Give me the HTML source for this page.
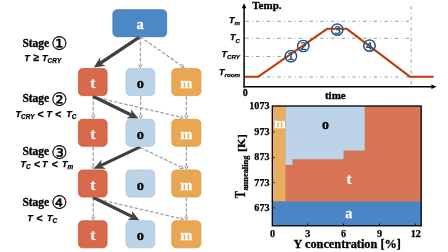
<!DOCTYPE html>
<html>
<head>
<meta charset="utf-8">
<title>Phase evolution</title>
<style>
html,body{margin:0;padding:0;background:#fff;}
body{width:448px;height:252px;overflow:hidden;}
svg{display:block;}
text{font-family:"Liberation Serif","DejaVu Serif",serif;}
.b{font-weight:bold;stroke:#000;stroke-width:0.3;}
.w{stroke:#fff !important;}
.bi{font-family:"Liberation Sans","DejaVu Sans",sans-serif;font-weight:bold;font-style:italic;stroke:#000;stroke-width:0.25;}
.stage{font-weight:bold;font-size:11.5px;stroke:#000;stroke-width:0.3;}
.f{font-family:"Liberation Sans","DejaVu Sans",sans-serif;font-weight:bold;font-style:italic;font-size:9px;stroke:#000;stroke-width:0.25;}
.sub{font-size:6.4px;letter-spacing:0.15px;}
.op{font-size:10.5px;font-style:normal;}
.cd{font-family:"DejaVu Sans",sans-serif;font-size:18.3px;text-anchor:middle;}
.cdk{stroke:#000;stroke-width:0.34;}
.dash{stroke:#a0a0a0;stroke-width:1.3;stroke-dasharray:3.5 1.8;fill:none;}
.dh{stroke:#a0a0a0;stroke-width:1;fill:#e4e4e4;}
.thick{stroke:#404040;stroke-width:3.2;fill:none;stroke-linecap:butt;}
.th{fill:#404040;stroke:none;}
.grid{stroke:#8e8e8e;stroke-width:0.9;stroke-dasharray:3.4 3.2 0.9 3.2;fill:none;}
.tick{font-weight:bold;font-size:10.2px;stroke:#000;stroke-width:0.25;}
.tk{stroke:#000;stroke-width:0.9;fill:none;}
.bx{font-weight:bold;font-size:14.5px;text-anchor:middle;stroke-width:0.3;}
</style>
</head>
<body>
<svg width="448" height="252" viewBox="0 0 448 252">
<rect width="448" height="252" fill="#fff"/>

<!-- LEFT: flow diagram -->
<g id="flow">
<line class="dash" x1="140.4" y1="36.8" x2="140.4" y2="66.8"/><path class="dh" d="M138.6,64.6 L140.4,67.8 L142.2,64.6"/>
<line class="dash" x1="140.4" y1="36.8" x2="183.38" y2="67.02"/><path class="dh" d="M180.55,67.23 L184.2,67.6 L182.62,64.29"/>
<line class="dash" x1="93.3" y1="96.3" x2="93.3" y2="117.5"/><path class="dh" d="M91.5,115.3 L93.3,118.5 L95.1,115.3"/>
<line class="dash" x1="186.4" y1="96.3" x2="186.4" y2="117.5"/><path class="dh" d="M184.6,115.3 L186.4,118.5 L188.2,115.3"/>
<line class="dash" x1="140.6" y1="96.3" x2="140.6" y2="117.5"/><path class="dh" d="M138.8,115.3 L140.6,118.5 L142.4,115.3"/>
<line class="dash" x1="93.3" y1="96.8" x2="182.33" y2="117.47"/><path class="dh" d="M179.78,118.73 L183.3,117.7 L180.59,115.22"/>
<line class="dash" x1="93.3" y1="147" x2="93.3" y2="168.2"/><path class="dh" d="M91.5,166 L93.3,169.2 L95.1,166"/>
<line class="dash" x1="186.4" y1="147" x2="186.4" y2="168.2"/><path class="dh" d="M184.6,166 L186.4,169.2 L188.2,166"/>
<line class="dash" x1="140.4" y1="147.5" x2="182.4" y2="167.96"/><path class="dh" d="M179.63,168.62 L183.3,168.4 L181.21,165.38"/>
<line class="dash" x1="93.3" y1="197.7" x2="93.3" y2="219"/><path class="dh" d="M91.5,216.8 L93.3,220 L95.1,216.8"/>
<line class="dash" x1="186.4" y1="197.7" x2="186.4" y2="219"/><path class="dh" d="M184.6,216.8 L186.4,220 L188.2,216.8"/>
<line class="dash" x1="93.3" y1="198.2" x2="182.33" y2="218.97"/><path class="dh" d="M179.77,220.23 L183.3,219.2 L180.59,216.72"/>
<line class="thick" x1="139.4" y1="37.1" x2="100.03" y2="63.43"/><path class="th" d="M93.8,67.6 L100.16,57.33 L100.03,63.43 L105.72,65.64 Z"/>
<line class="thick" x1="92.9" y1="96.3" x2="131.76" y2="115.31"/><path class="th" d="M138.5,118.6 L126.42,118.26 L131.76,115.31 L130.81,109.28 Z"/>
<line class="thick" x1="140.2" y1="146.9" x2="100.58" y2="165.6"/><path class="th" d="M93.8,168.8 L101.61,159.58 L100.58,165.6 L105.88,168.63 Z"/>
<line class="thick" x1="92.9" y1="197.3" x2="132.67" y2="216.89"/><path class="th" d="M139.4,220.2 L127.32,219.83 L132.67,216.89 L131.74,210.85 Z"/>
<rect x="112.9" y="9.7" width="53.8" height="27" rx="4.2" fill="#4c87c6" stroke="#3d76b5" stroke-width="0.8"/>
<text class="bx" x="140.2" y="28.8" fill="#fff" stroke="#fff">a</text>
<rect x="78.4" y="68.6" width="28.7" height="27" rx="4.2" fill="#d9694b" stroke="#c9593b" stroke-width="0.8"/>
<text class="bx" x="93" y="88.2" fill="#fff" stroke="#fff">t</text>
<rect x="126" y="68.6" width="28.7" height="27" rx="4.2" fill="#bdd3e8" stroke="#aac5de" stroke-width="0.8"/>
<text class="bx" x="140.3" y="88.2" fill="#000" stroke="#000">o</text>
<rect x="171.8" y="68.6" width="29.1" height="27" rx="4.2" fill="#eaa753" stroke="#dd9a47" stroke-width="0.8"/>
<text class="bx" x="186.4" y="88.2" fill="#fff" stroke="#fff">m</text>
<rect x="78.4" y="119.3" width="28.7" height="27" rx="4.2" fill="#d9694b" stroke="#c9593b" stroke-width="0.8"/>
<text class="bx" x="93" y="138.9" fill="#fff" stroke="#fff">t</text>
<rect x="126" y="119.3" width="28.7" height="27" rx="4.2" fill="#bdd3e8" stroke="#aac5de" stroke-width="0.8"/>
<text class="bx" x="140.3" y="138.9" fill="#000" stroke="#000">o</text>
<rect x="171.8" y="119.3" width="29.1" height="27" rx="4.2" fill="#eaa753" stroke="#dd9a47" stroke-width="0.8"/>
<text class="bx" x="186.4" y="138.9" fill="#fff" stroke="#fff">m</text>
<rect x="78.4" y="170" width="28.7" height="27" rx="4.2" fill="#d9694b" stroke="#c9593b" stroke-width="0.8"/>
<text class="bx" x="93" y="189.6" fill="#fff" stroke="#fff">t</text>
<rect x="126" y="170" width="28.7" height="27" rx="4.2" fill="#bdd3e8" stroke="#aac5de" stroke-width="0.8"/>
<text class="bx" x="140.3" y="189.6" fill="#000" stroke="#000">o</text>
<rect x="171.8" y="170" width="29.1" height="27" rx="4.2" fill="#eaa753" stroke="#dd9a47" stroke-width="0.8"/>
<text class="bx" x="186.4" y="189.6" fill="#fff" stroke="#fff">m</text>
<rect x="78.4" y="220.8" width="28.7" height="27" rx="4.2" fill="#d9694b" stroke="#c9593b" stroke-width="0.8"/>
<text class="bx" x="93" y="240.4" fill="#fff" stroke="#fff">t</text>
<rect x="126" y="220.8" width="28.7" height="27" rx="4.2" fill="#bdd3e8" stroke="#aac5de" stroke-width="0.8"/>
<text class="bx" x="140.3" y="240.4" fill="#000" stroke="#000">o</text>
<rect x="171.8" y="220.8" width="29.1" height="27" rx="4.2" fill="#eaa753" stroke="#dd9a47" stroke-width="0.8"/>
<text class="bx" x="186.4" y="240.4" fill="#fff" stroke="#fff">m</text>

<!-- stage labels -->
<text class="stage" x="22.4" y="47">Stage</text>
<text class="cd cdk" x="59.500" y="49.80">①</text>
<text class="f" y="60.500"><tspan x="24.3">T</tspan><tspan class="op" x="33.6" dy="0.9">≥</tspan><tspan x="42.1" dy="-0.9">T</tspan><tspan class="sub" dy="2">CRY</tspan></text>

<text class="stage" x="22.4" y="102.300">Stage</text>
<text class="cd cdk" x="59.500" y="105.70">②</text>
<text class="f" y="116.800"><tspan x="15.4">T</tspan><tspan class="sub" dy="2">CRY</tspan><tspan class="op" x="37.5" dy="-1.1">&lt;</tspan><tspan x="46.6" dy="-0.9">T</tspan><tspan class="op" x="55.3" dy="0.9">&lt;</tspan><tspan x="66.25" dy="-0.9">T</tspan><tspan class="sub" dy="2">C</tspan></text>

<text class="stage" x="22.4" y="154.600">Stage</text>
<text class="cd cdk" x="59.500" y="158.80">③</text>
<text class="f" y="166.800"><tspan x="20.4">T</tspan><tspan class="sub" dy="2">C</tspan><tspan class="op" x="33.9" dy="-1.1">&lt;</tspan><tspan x="42.1" dy="-0.9">T</tspan><tspan class="op" x="51.8" dy="0.9">&lt;</tspan><tspan x="62.1" dy="-0.9">T</tspan><tspan class="sub" dy="2">m</tspan></text>

<text class="stage" x="22.4" y="205.500">Stage</text>
<text class="cd cdk" x="59.500" y="209.30">④</text>
<text class="f" y="220.700"><tspan x="27.3">T</tspan><tspan class="op" x="36.6" dy="0.9">&lt;</tspan><tspan x="47" dy="-0.9">T</tspan><tspan class="sub" dy="2">C</tspan></text>
</g>

<!-- TOP RIGHT: temperature profile -->
<g id="profile">
<line class="grid" x1="245.300" y1="21.300" x2="410" y2="21.300"/>
<line class="grid" x1="245.300" y1="38.300" x2="410" y2="38.300"/>
<line class="grid" x1="245.300" y1="56.500" x2="285" y2="56.500"/>
<line class="grid" x1="245.300" y1="77" x2="410" y2="77"/>
<line class="grid" x1="411.200" y1="6" x2="411.200" y2="86"/>
<polyline points="244.500,76.800 258,76.800 327.100,28.800 346.800,28.800 410.200,76.800 433.600,76.800" fill="none" stroke="#c23b0a" stroke-width="2.100" stroke-linejoin="round"/>
<!-- axes -->
<line x1="244.100" y1="87.400" x2="244.100" y2="7" stroke="#000" stroke-width="1.500"/>
<path d="M244.100,3.300 L246.400,8.300 L241.800,8.300 Z" fill="#000"/>
<line x1="243.400" y1="86.700" x2="432" y2="86.700" stroke="#000" stroke-width="1.500"/>
<path d="M436.600,86.700 L431.400,84.400 L431.400,89 Z" fill="#000"/>
<!-- circled numbers -->
<g fill="none" stroke="#1b5280" stroke-width="1.25">
<circle cx="290.90" cy="56.20" r="5.65"/>
<circle cx="303.30" cy="46.00" r="5.65"/>
<circle cx="337.20" cy="29.40" r="5.65"/>
<circle cx="369.50" cy="45.50" r="5.65"/>
</g>
<g fill="#1b5280">
<text class="cd" style="font-size:16.7px" x="290.90" y="62.41">①</text>
<text class="cd" style="font-size:16.7px" x="303.30" y="52.21">②</text>
<text class="cd" style="font-size:16.7px" x="337.20" y="35.61">③</text>
<text class="cd" style="font-size:16.7px" x="369.50" y="51.71">④</text>
</g>
<text class="b" x="252.300" y="9.100" style="font-size:11px">Temp.</text>
<text class="bi" x="240" y="23.1" text-anchor="end" style="font-size:9px">T<tspan style="font-size:6.2px" dy="2.2">m</tspan></text>
<text class="bi" x="240" y="40.4" text-anchor="end" style="font-size:9px">T<tspan style="font-size:6.2px" dy="2.2">C</tspan></text>
<text class="bi" x="240" y="56.7" text-anchor="end" style="font-size:9px">T<tspan style="font-size:6.2px" dy="2.2">CRY</tspan></text>
<text class="bi" x="240" y="75.1" text-anchor="end" style="font-size:9px">T<tspan style="font-size:6.2px" dy="2.2">room</tspan></text>
<text class="b" x="242.700" y="96.300" style="font-size:10px">0</text>
<text class="b" x="335.300" y="99" style="font-size:11px;text-anchor:middle">time</text>
</g>

<!-- BOTTOM RIGHT: phase map -->
<g id="map">
<rect x="272.3" y="106.0" width="148.9" height="119.8" fill="#d77456"/>
<rect x="272.3" y="106.0" width="13.2" height="95.4" fill="#e9ad5f"/>
<path d="M285.5,106.0 H364.7 V150.6 H343.6 V159.2 H292.4 V165 H285.5 Z" fill="#bdd3e7"/>
<rect x="272.3" y="201.4" width="148.9" height="24.4" fill="#4a86c6"/>
<path class="tk" d="M272.3,131.9 h2.2 M272.3,157.3 h2.2 M272.3,182.6 h2.2 M272.3,207.9 h2.2 M307.8,225.8 v-2.3 M343.5,225.8 v-2.3 M379.4,225.8 v-2.3 M415.6,225.8 v-2.3"/>
<rect x="272.3" y="106.0" width="148.9" height="119.8" fill="none" stroke="#000" stroke-width="1.3"/>
<g text-anchor="end">
<text class="tick" x="269.6" y="108.900">1073</text>
<text class="tick" x="269.6" y="134.800">973</text>
<text class="tick" x="269.6" y="160.200">873</text>
<text class="tick" x="269.6" y="185.500">773</text>
<text class="tick" x="269.6" y="210.800">673</text>
</g>
<g text-anchor="middle">
<text class="tick" x="272.5" y="237.400">0</text>
<text class="tick" x="307.8" y="237.400">3</text>
<text class="tick" x="343.5" y="237.400">6</text>
<text class="tick" x="379.5" y="237.400">9</text>
<text class="tick" x="415.8" y="237.400">12</text>
</g>
<text class="b" x="347.2" y="247.700" text-anchor="middle" style="font-size:12.3px">Y concentration [%]</text>
<text class="b" transform="translate(245,198.200) rotate(-90) scale(0.88,1.1)" style="font-size:12.3px">T</text>
<text class="b" transform="translate(248.300,190.600) rotate(-90) scale(1,0.9)" style="font-size:8.400px">annealing</text>
<text class="b" transform="translate(245.300,152) rotate(-90) scale(1,0.86)" style="font-size:12.3px">[K]</text>
<text class="b w" x="279.9" y="128" text-anchor="middle" fill="#fff" style="font-size:14px">m</text>
<text class="b" x="325.4" y="129" text-anchor="middle" fill="#000" style="font-size:14px">o</text>
<text class="b w" x="349.2" y="183.600" text-anchor="middle" fill="#fff" style="font-size:14px">t</text>
<text class="b w" x="348.8" y="217.800" text-anchor="middle" fill="#fff" style="font-size:14px">a</text>
</g>
</svg>
</body>
</html>
